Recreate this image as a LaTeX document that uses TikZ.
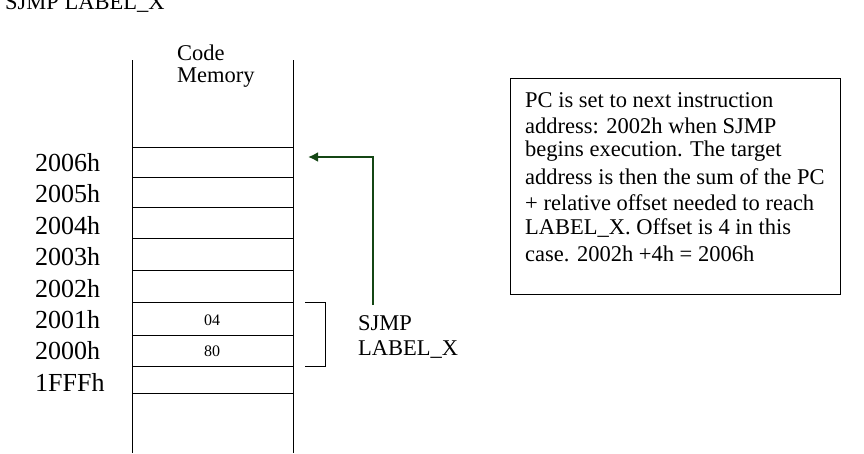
\documentclass[tikz,border=0pt]{standalone}
\usepackage{fontspec}
\usetikzlibrary{arrows.meta}
\setmainfont{Liberation Serif}
\definecolor{dg}{RGB}{20,70,20}
\begin{document}
\begin{tikzpicture}[x=1pt,y=-1pt,
  lbl/.style={anchor=west,font=\fontsize{26}{28}\selectfont,inner sep=0},
  sm/.style={font=\fontsize{16}{18}\selectfont,inner sep=0},
  txt/.style={anchor=west,font=\fontsize{22.5}{24}\selectfont,inner sep=0}]
\useasboundingbox (0,0) rectangle (864,453);
\draw[thick] (132,60) -- (132,453) (293,60) -- (293,453);
\foreach \y in {147,177,207,238,270,302,335,366,393}
  \draw[thick] (132,\y) -- (293,\y);
\node[txt] (t) at (5,3) {SJMP LABEL\_X};
\node[txt] (c1) at (177,53) {Code};
\node[txt] (c2) at (177,78) {Memory};
\foreach \n/\y/\t in {a/163/2006h,b/194/2005h,c/226/2004h,d/257/2003h,e/289/2002h,f/320/2001h,g/351/2000h,h/382/1FFFh}
  \node[lbl] (\n) at (35,\y) {\t};
\node[sm] (v1) at (212,320) {04};
\node[sm] (v2) at (212,351) {80};
\draw[thick] (305,302) -- (325,302) -- (325,366) -- (305,366);
\coordinate (as) at (373,305);
\coordinate (ac) at (373,157);
\coordinate (ae) at (308,157);
\draw[dg,line width=2.5pt,-{Latex[length=10pt,width=10pt]}] (as) -- (ac) -- (ae);
\node[txt] (s1) at (358,323) {SJMP};
\node[txt] (s2) at (358,350) {LABEL\_X};
\draw[thick] (510,78) rectangle (840,294);
\foreach \i/\t in {0/PC is set to next instruction,1/address: 2002h when SJMP,2/begins execution. The target,3/address is then the sum of the PC,4/+ relative offset needed to reach,5/LABEL\_X. Offset is 4 in this,6/case. 2002h +4h = 2006h}
  \node[txt] (p\i) at (525,100+25.7*\i) {\t};
\end{tikzpicture}
\end{document}
